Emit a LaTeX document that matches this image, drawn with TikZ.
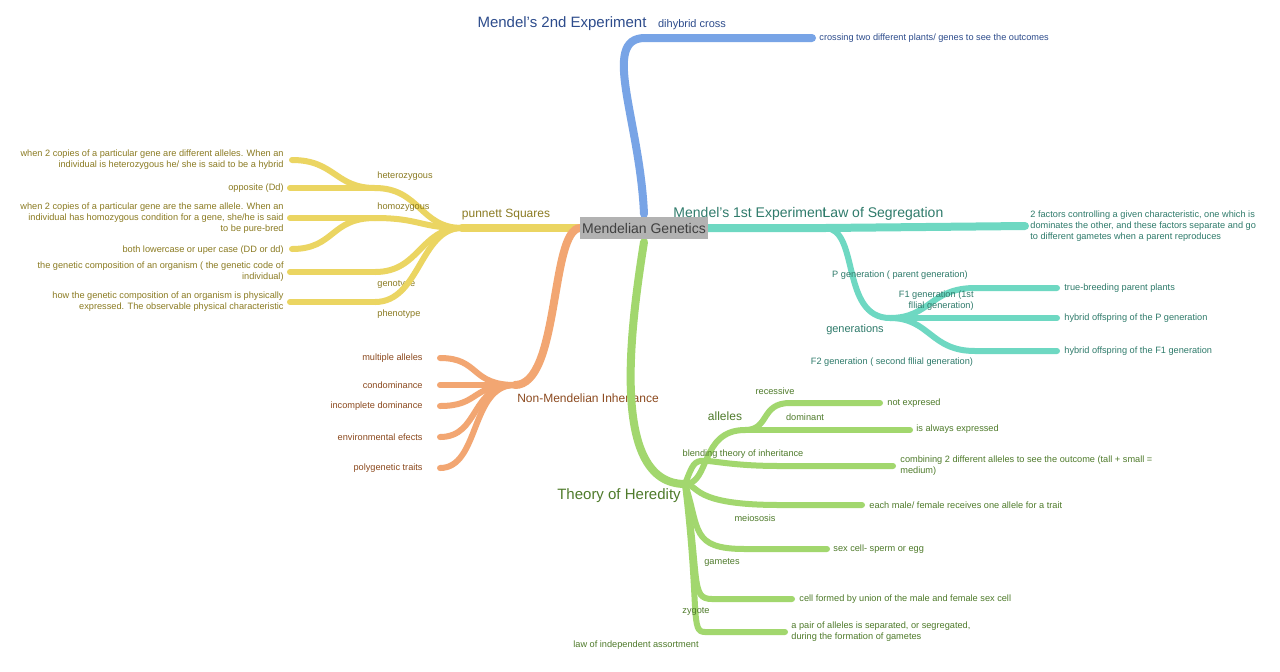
\documentclass[tikz,border=0pt]{standalone}
\usepackage{fontspec}
\setmainfont{Liberation Sans}
\usetikzlibrary{positioning}
\definecolor{blueline}{HTML}{78A4E6}
\definecolor{bluetext}{HTML}{2D4C8C}
\definecolor{tealline}{HTML}{6ED8C2}
\definecolor{tealtext}{HTML}{2F7B6B}
\definecolor{yelline}{HTML}{EBD562}
\definecolor{yeltext}{HTML}{8B7B22}
\definecolor{orgline}{HTML}{F2A672}
\definecolor{orgtext}{HTML}{8C4A1F}
\definecolor{grnline}{HTML}{A2D76E}
\definecolor{grntext}{HTML}{4F7B2B}
\tikzset{
  limb/.style={line width=3pt,line cap=round},
  trunk/.style={line width=4pt,line cap=round},
  big/.style={font=\fontsize{7}{8}\selectfont,inner sep=0pt},
  small/.style={font=\fontsize{4.6}{5.6}\selectfont,inner sep=0pt},
}
\begin{document}
\begin{tikzpicture}[x=0.5pt,y=-0.5pt]
    \useasboundingbox[fill=white] (0,0) rectangle (1280,671);

    % Mendel's 2nd Experiment
    \coordinate (b0) at (644,214);
    \coordinate (b1) at (645,38);
    \coordinate (b2) at (812,38);
    \draw[trunk,blueline] (b0) .. controls (640,120) and (600,38) .. (b1) -- (b2);
    \node[big,bluetext,font=\fontsize{7.5}{9}\selectfont] (exp2) at (562,24) {Mendel's 2nd Experiment};
    \node[small,bluetext,font=\fontsize{5.5}{6.5}\selectfont] (dihyb) at (692,25) {dihybrid cross};
    \node[small,bluetext,anchor=west] (cross) at (819,38) {crossing two different plants/ genes to see the outcomes};

    % Mendel's 1st Experiment
    \coordinate (t0) at (708,228);
    \coordinate (t1) at (825,228);
    \coordinate (t2) at (1025,226);
    \coordinate (t3) at (890,318);
    \draw[trunk,tealline] (t0) -- (t1) -- (t2);
    \draw[limb,tealline] (t1) .. controls (860,228) and (840,318) .. (t3);
    \node[big,tealtext] (exp1) at (750,214) {Mendel's 1st Experiment};
    \node[big,tealtext] (seg) at (883,214) {Law of Segregation};
    \node[small,tealtext,anchor=west,align=left] (segtxt) at (1030,226) {2 factors controlling a given characteristic, one which is\\dominates the other, and these factors separate and go\\to different gametes when a parent reproduces};
    \node[small,tealtext,font=\fontsize{5.5}{6.5}\selectfont] (gens) at (855,330) {generations};
    \foreach \y/\t in {288/true-breeding parent plants,318/hybrid offspring of the P generation,351/hybrid offspring of the F1 generation}{
        \draw[limb,tealline] (t3) .. controls (930,318) and (930,\y) .. (975,\y) -- (1057,\y);
        \node[small,tealtext,anchor=west] at (1064,\y) {\t};
    }
    \node[small,tealtext] (pgen) at (900,275) {P generation ( parent generation)};
    \node[small,tealtext,align=right,anchor=east] (f1gen) at (974,301) {F1 generation (1st\\fllial generation)};
    \node[small,tealtext] (f2gen) at (892,362) {F2 generation ( second fllial generation)};

    % punnett Squares
    \coordinate (y0) at (580,228);
    \coordinate (y1) at (462,228);
    \draw[trunk,yelline] (y0) -- (y1);
    \node[big,yeltext,font=\fontsize{6}{7}\selectfont] (punn) at (506,215) {punnett Squares};
    \foreach \y/\l/\ly in {188/heterozygous/176,218/homozygous/207,272/genotype/284,302/phenotype/314}{
        \draw[limb,yelline] (y1) .. controls (420,228) and (420,\y) .. (375,\y);
        \node[small,yeltext,anchor=west] at (377,\ly) {\l};
    }
    \draw[limb,yelline] (375,188) -- (290,188);
    \draw[limb,yelline] (375,188) .. controls (335,188) and (335,160) .. (292,160);
    \draw[limb,yelline] (375,218) -- (290,218);
    \draw[limb,yelline] (375,218) .. controls (330,218) and (335,249) .. (292,249);
    \draw[limb,yelline] (375,272) -- (290,272);
    \draw[limb,yelline] (375,302) -- (290,302);
    \node[small,yeltext,anchor=east,align=right] (het) at (284,160) {when 2 copies of a particular gene are different alleles. When an\\individual is heterozygous he/ she is said to be a hybrid};
    \node[small,yeltext,anchor=east] (opp) at (284,188) {opposite (Dd)};
    \node[small,yeltext,anchor=east,align=right] (hom) at (284,218) {when 2 copies of a particular gene are the same allele. When an\\individual has homozygous condition for a gene, she/he is said\\to be pure-bred};
    \node[small,yeltext,anchor=east] (case) at (284,250) {both lowercase or uper case (DD or dd)};
    \node[small,yeltext,anchor=east,align=right] (geno) at (284,272) {the genetic composition of an organism ( the genetic code of\\individual)};
    \node[small,yeltext,anchor=east,align=right] (pheno) at (284,302) {how the genetic composition of an organism is physically\\expressed. The observable physical characteristic};

    % Non-Mendelian Inhertance
    \coordinate (o0) at (580,228);
    \coordinate (o1) at (515,385);
    \draw[trunk,orgline] (o0) .. controls (550,230) and (560,385) .. (o1);
    \node[big,orgtext,font=\fontsize{6}{7}\selectfont] (nonm) at (588,398) {Non-Mendelian Inhertance};
    \foreach \y/\t in {358/multiple alleles,385/condominance,406/incomplete dominance,437/environmental efects,468/polygenetic traits}{
        \draw[limb,orgline] (o1) .. controls (470,385) and (480,\y) .. (440,\y);
        \node[small,orgtext,anchor=east] at (423,\y) {\t};
    }

    % Theory of Heredity
    \coordinate (g0) at (644,242);
    \coordinate (g1) at (685,484);
    \draw[trunk,grnline] (g0) .. controls (630,330) and (610,484) .. (g1);
    \node[big,grntext,font=\fontsize{7.5}{9}\selectfont] (theo) at (619,496) {Theory of Heredity};
    \coordinate (al) at (745,430);
    \draw[limb,grnline] (g1) .. controls (710,484) and (700,430) .. (al);
    \draw[limb,grnline] (al) .. controls (770,430) and (760,403) .. (790,403) -- (880,403);
    \draw[limb,grnline] (al) -- (910,430);
    \node[small,grntext,font=\fontsize{6}{7}\selectfont] (alle) at (725,416) {alleles};
    \node[small,grntext] (rec) at (775,391) {recessive};
    \node[small,grntext] (dom) at (805,417) {dominant};
    \node[small,grntext,anchor=west] (notex) at (887,403) {not expresed};
    \node[small,grntext,anchor=west] (isex) at (916,429) {is always expressed};
    \foreach \y/\xa/\xb in {466/780/893,505/780/862,549/745/827,599/712/792,632/705/785}{
        \draw[limb,grnline] (g1) .. controls (700,\y-20) and (690,\y) .. (\xa,\y) -- (\xb,\y);
    }
    \node[small,grntext] (blend) at (743,454) {blending theory of inheritance};
    \node[small,grntext,anchor=west,align=left] (blendtxt) at (900,466) {combining 2 different alleles to see the outcome (tall + small =\\medium)};
    \node[small,grntext] (meio) at (755,518) {meiososis};
    \node[small,grntext,anchor=west] (meiotxt) at (869,505) {each male/ female receives one allele for a trait};
    \node[small,grntext] (game) at (722,562) {gametes};
    \node[small,grntext,anchor=west] (gametxt) at (833,549) {sex cell- sperm or egg};
    \node[small,grntext] (zyg) at (696,611) {zygote};
    \node[small,grntext,anchor=west] (zygtxt) at (799,599) {cell formed by union of the male and female sex cell};
    \node[small,grntext] (lawind) at (636,645) {law of independent assortment};
    \node[small,grntext,anchor=west,align=left] (lawtxt) at (791,632) {a pair of alleles is separated, or segregated,\\during the formation of gametes};

    % centre
    \node[fill=black!30,minimum width=64pt,minimum height=11pt,inner sep=0pt,
          font=\fontsize{7}{8}\selectfont,text=black!75] (mg) at (644,228) {Mendelian Genetics};
\end{tikzpicture}
\end{document}
